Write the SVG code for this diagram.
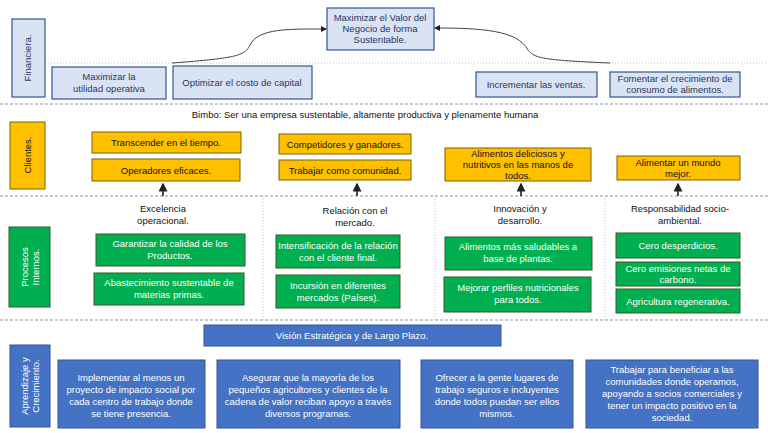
<svg xmlns="http://www.w3.org/2000/svg" width="768" height="433" viewBox="0 0 768 433">
<defs>
<style>
text{font-family:"Liberation Sans",Arial,sans-serif;font-size:9.5px;text-anchor:middle}
.fin{fill:#dae3f3;stroke:#2f5597;stroke-width:1.2}
.fin+text,.ft{fill:#1f3864}
.cl{fill:#ffc000;stroke:#7f6000;stroke-width:1}
.gr{fill:#00b050;stroke:#385723;stroke-width:1}
.bl{fill:#4472c4;stroke:#2f5597;stroke-width:1}
.w{fill:#fff}
.k{fill:#111}
.dash{stroke:#8496b0;stroke-width:1;stroke-dasharray:3 2;fill:none}
.dot{stroke:#b4c0d8;stroke-width:1;stroke-dasharray:1 2;fill:none}
</style>
<marker id="ar" markerWidth="6" markerHeight="6" refX="5" refY="3" orient="auto"><path d="M0,0L6,3L0,6z" fill="#222"/></marker>
</defs>
<rect width="768" height="433" fill="#fff"/>
<g id="lines">
<line class="dash" x1="0" y1="104" x2="768" y2="104"/>
<line class="dash" x1="0" y1="196" x2="768" y2="196"/>
<line class="dash" x1="0" y1="320" x2="768" y2="320"/>
<line class="dot" x1="45" y1="63" x2="768" y2="63"/>
<line class="dot" x1="263" y1="196" x2="263" y2="320"/>
<line class="dot" x1="435" y1="196" x2="435" y2="320"/>
<line class="dot" x1="605" y1="196" x2="605" y2="320"/>
</g>
<g id="connectors" fill="none" stroke="#444" stroke-width="1">
<path d="M172,63 C240,58 245,55 250,45 C258,28 290,29 326,29" marker-end="url(#ar)"/>
<path d="M610,63 C540,60 535,58 528,50 C518,30 480,28 435,28" marker-end="url(#ar)"/>
<g stroke="#111" stroke-width="1.5">
<line x1="163" y1="196" x2="163" y2="184" marker-end="url(#ar)"/>
<line x1="357" y1="196" x2="357" y2="184" marker-end="url(#ar)"/>
<line x1="521" y1="196" x2="521" y2="184" marker-end="url(#ar)"/>
<line x1="678" y1="196" x2="678" y2="184" marker-end="url(#ar)"/>
</g>
</g>
<g id="side-labels">
<g id="lbl-fin"><rect class="fin" x="12" y="19" width="33" height="78"/><text class="ft" transform="translate(31,58) rotate(-90)">Financiera.</text></g>
<g id="lbl-cli"><rect class="cl" x="10" y="122" width="35" height="67"/><text class="k" transform="translate(31,155) rotate(-90)">Clientes.</text></g>
<g id="lbl-pro"><rect class="gr" x="9" y="227" width="41" height="80"/><text class="w" transform="translate(28,267) rotate(-90)">Procesos</text><text class="w" transform="translate(39,267) rotate(-90)">Internos.</text></g>
<g id="lbl-apr"><rect class="bl" x="10" y="345" width="40" height="82"/><text class="w" transform="translate(28,386) rotate(-90)">Aprendizaje y</text><text class="w" transform="translate(39,386) rotate(-90)">Crecimiento.</text></g>
</g>
<g id="top"><rect class="fin" x="327" y="8" width="107" height="42"/><text class="ft" x="380" y="21">Maximizar el Valor del</text><text class="ft" x="380" y="32">Negocio de forma</text><text class="ft" x="380" y="43">Sustentable.</text></g>
<g id="f1"><rect class="fin" x="52" y="67" width="114" height="32"/><text class="ft" x="109" y="80">Maximizar la</text><text class="ft" x="109" y="92">utilidad operativa</text></g>
<g id="f2"><rect class="fin" x="173" y="66" width="139" height="33"/><text class="ft" x="242" y="86">Optimizar el costo de capital</text></g>
<g id="f3"><rect class="fin" x="476" y="72" width="121" height="25"/><text class="ft" x="536" y="88">Incrementar las ventas.</text></g>
<g id="f4"><rect class="fin" x="610" y="72" width="130" height="25"/><text class="ft" x="675" y="82">Fomentar el crecimiento de</text><text class="ft" x="675" y="93">consumo de alimentos.</text></g>
<text class="k" x="365" y="118">Bimbo: Ser una empresa sustentable, altamente productiva y plenamente humana</text>
<g id="c1"><rect class="cl" x="92" y="132" width="149" height="21"/><text class="k" x="166" y="146">Transcender en el tiempo.</text></g>
<g id="c2"><rect class="cl" x="92" y="159" width="148" height="22"/><text class="k" x="166" y="174">Operadores eficaces.</text></g>
<g id="c3"><rect class="cl" x="279" y="134" width="132" height="20"/><text class="k" x="345" y="148">Competidores y ganadores.</text></g>
<g id="c4"><rect class="cl" x="279" y="160" width="132" height="20"/><text class="k" x="345" y="174">Trabajar como comunidad.</text></g>
<g id="c5"><rect class="cl" x="445" y="148" width="146" height="33"/><text class="k" x="518" y="157">Alimentos deliciosos y</text><text class="k" x="518" y="168">nutritivos en las manos de</text><text class="k" x="518" y="179">todos.</text></g>
<g id="c6"><rect class="cl" x="617" y="156" width="123" height="24"/><text class="k" x="678" y="166">Alimentar un mundo</text><text class="k" x="678" y="177">mejor.</text></g>
<g id="heads">
<text class="k" x="163" y="212">Excelencia</text><text class="k" x="163" y="224">operacional.</text>
<text class="k" x="355" y="214">Relación con el</text><text class="k" x="355" y="226">mercado.</text>
<text class="k" x="520" y="212">Innovación y</text><text class="k" x="520" y="224">desarrollo.</text>
<text class="k" x="680" y="212">Responsabilidad socio-</text><text class="k" x="680" y="224">ambiental.</text>
</g>
<g id="p1"><rect class="gr" x="96" y="234" width="149" height="32"/><text class="w" x="170" y="247">Garantizar la calidad de los</text><text class="w" x="170" y="259">Productos.</text></g>
<g id="p2"><rect class="gr" x="94" y="273" width="150" height="32"/><text class="w" x="169" y="286">Abastecimiento sustentable de</text><text class="w" x="169" y="298">materias primas.</text></g>
<g id="p3"><rect class="gr" x="276" y="235" width="124" height="33"/><text class="w" x="338" y="249">Intensificación de la relación</text><text class="w" x="338" y="261">con el cliente final.</text></g>
<g id="p4"><rect class="gr" x="276" y="275" width="124" height="33"/><text class="w" x="338" y="289">Incursión en diferentes</text><text class="w" x="338" y="301">mercados (Países).</text></g>
<g id="p5"><rect class="gr" x="445" y="237" width="147" height="33"/><text class="w" x="518" y="250">Alimentos más saludables a</text><text class="w" x="518" y="262">base de plantas.</text></g>
<g id="p6"><rect class="gr" x="444" y="277" width="147" height="35"/><text class="w" x="518" y="291">Mejorar perfiles nutricionales</text><text class="w" x="518" y="303">para todos.</text></g>
<g id="p7"><rect class="gr" x="616" y="233" width="124" height="25"/><text class="w" x="678" y="249">Cero desperdicios.</text></g>
<g id="p8"><rect class="gr" x="616" y="262" width="124" height="24"/><text class="w" x="678" y="272">Cero emisiones netas de</text><text class="w" x="678" y="283">carbono.</text></g>
<g id="p9"><rect class="gr" x="616" y="289" width="124" height="24"/><text class="w" x="678" y="305">Agricultura regenerativa.</text></g>
<g id="vision"><rect class="bl" x="204" y="325" width="297" height="21"/><text class="w" x="352" y="339">Visión Estratégica y de Largo Plazo.</text></g>
<g id="a1"><rect class="bl" x="58" y="360" width="147" height="68"/><text class="w" x="131" y="381">Implementar al menos un</text><text class="w" x="131" y="393">proyecto de impacto social por</text><text class="w" x="131" y="405">cada centro de trabajo donde</text><text class="w" x="131" y="417">se tiene presencia.</text></g>
<g id="a2"><rect class="bl" x="217" y="360" width="183" height="68"/><text class="w" x="308" y="381">Asegurar que la mayoría de los</text><text class="w" x="308" y="393">pequeños agricultores y clientes de la</text><text class="w" x="308" y="405">cadena de valor reciban apoyo a través</text><text class="w" x="308" y="417">diversos programas.</text></g>
<g id="a3"><rect class="bl" x="421" y="360" width="152" height="68"/><text class="w" x="497" y="381">Ofrecer a la gente lugares de</text><text class="w" x="497" y="393">trabajo seguros e incluyentes</text><text class="w" x="497" y="405">donde todos puedan ser ellos</text><text class="w" x="497" y="417">mismos.</text></g>
<g id="a4"><rect class="bl" x="586" y="360" width="172" height="68"/><text class="w" x="672" y="373">Trabajar para beneficiar a las</text><text class="w" x="672" y="385">comunidades donde operamos,</text><text class="w" x="672" y="397">apoyando a socios comerciales y</text><text class="w" x="672" y="409">tener un impacto positivo en la</text><text class="w" x="672" y="421">sociedad.</text></g>
</svg>
